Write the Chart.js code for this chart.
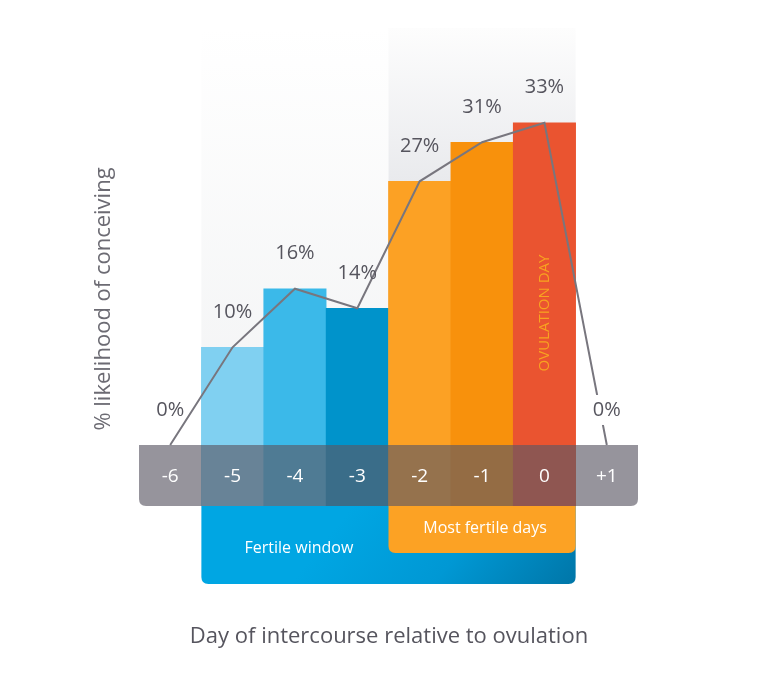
<!DOCTYPE html>
<html>
<head>
<meta charset="utf-8">
<script src="https://cdn.jsdelivr.net/npm/chart.js@4"></script>
<style>
  body { margin: 0; background: #fff; }
</style>
</head>
<body>
<canvas id="fertilityChart" width="781" height="683"></canvas>
<script>
// chart values
const days = ['-6', '-5', '-4', '-3', '-2', '-1', '0', '+1'];
const likelihood = [0, 10, 16, 14, 27, 31, 33, 0];
const barColors = ['rgba(0,0,0,0)', '#80d0f1', '#3bb9e9', '#0093cb', '#fca124', '#f8910c', '#ea5430', 'rgba(0,0,0,0)'];

const yTitle = '% likelihood of conceiving';
const xTitle = 'Day of intercourse relative to ovulation';

const FONT = '"Open Sans", sans-serif';
const Y_MIN = -6.25;
const Y_MAX = 42.7;

function roundRectBottom(ctx, x, y, w, h, r) {
  ctx.beginPath();
  ctx.moveTo(x, y);
  ctx.lineTo(x + w, y);
  ctx.lineTo(x + w, y + h - r);
  ctx.quadraticCurveTo(x + w, y + h, x + w - r, y + h);
  ctx.lineTo(x + r, y + h);
  ctx.quadraticCurveTo(x, y + h, x, y + h - r);
  ctx.closePath();
}

// backdrop panels and the fertile window boxes, drawn under the bars
const backdrop = {
  id: 'backdrop',
  beforeDatasetsDraw(chart) {
    const { ctx, chartArea, scales: { x, y } } = chart;
    const half = (x.getPixelForValue(1) - x.getPixelForValue(0)) / 2;
    const zero = y.getPixelForValue(0);
    const top = chartArea.top;
    ctx.save();

    // light panel behind days -5..-3
    let l = x.getPixelForValue(1) - half, r = x.getPixelForValue(3) + half;
    let g = ctx.createLinearGradient(0, top, 0, zero);
    g.addColorStop(0, '#ffffff');
    g.addColorStop(1, '#f2f3f4');
    ctx.fillStyle = g;
    ctx.fillRect(l, top, r - l, zero - top);

    // darker panel behind days -2..0
    l = x.getPixelForValue(4) - half; r = x.getPixelForValue(6) + half;
    g = ctx.createLinearGradient(0, top, 0, y.getPixelForValue(27));
    g.addColorStop(0, '#fdfdfd');
    g.addColorStop(1, '#e9eaed');
    ctx.fillStyle = g;
    ctx.fillRect(l, top, r - l, zero - top);

    // fertile window box
    l = x.getPixelForValue(1) - half; r = x.getPixelForValue(6) + half;
    const blueBottom = chartArea.bottom + 78;
    g = ctx.createLinearGradient(l + 200, zero, r, blueBottom);
    g.addColorStop(0, '#00a6e3');
    g.addColorStop(0.5, '#0098d4');
    g.addColorStop(1, '#0076a8');
    ctx.fillStyle = g;
    roundRectBottom(ctx, l, zero, r - l, blueBottom - zero, 7);
    ctx.fill();

    // most fertile days box
    l = x.getPixelForValue(4) - half;
    ctx.fillStyle = '#fca224';
    roundRectBottom(ctx, l, zero, r - l, chartArea.bottom + 47 - zero, 7);
    ctx.fill();
    ctx.restore();
  }
};

// grey day band, value labels and titles, drawn over the bars
const overlay = {
  id: 'overlay',
  afterDatasetsDraw(chart) {
    const { ctx, chartArea, scales: { x, y } } = chart;
    const zero = y.getPixelForValue(0);
    ctx.save();

    ctx.fillStyle = 'rgba(91, 88, 100, 0.64)';
    roundRectBottom(ctx, chartArea.left, zero, chartArea.right - chartArea.left, chartArea.bottom - zero, 7);
    ctx.fill();

    ctx.textAlign = 'center';
    ctx.textBaseline = 'middle';

    // day labels in the band
    ctx.fillStyle = '#ffffff';
    ctx.font = '19px ' + FONT;
    days.forEach((d, i) => {
      ctx.fillText(d, x.getPixelForValue(i), (zero + chartArea.bottom) / 2 + 1);
    });

    // percentage labels; the last one gets a white patch so the line breaks there
    ctx.font = '20px ' + FONT;
    likelihood.forEach((v, i) => {
      const px = x.getPixelForValue(i), py = y.getPixelForValue(v) - 35;
      if (i === days.length - 1) {
        ctx.fillStyle = '#ffffff';
        ctx.fillRect(px - 17, py - 15, 34, 30);
      }
      ctx.fillStyle = '#56555e';
      ctx.fillText(v + '%', px, py);
    });

    // box captions
    ctx.fillStyle = '#ffffff';
    ctx.font = '16px ' + FONT;
    ctx.fillText('Fertile window', x.getPixelForValue(2) + 4, chartArea.bottom + 42);
    ctx.fillText('Most fertile days', x.getPixelForValue(5) + 3, chartArea.bottom + 22);

    // ovulation day, rotated inside the last bar
    ctx.save();
    ctx.translate(x.getPixelForValue(6), 313);
    ctx.rotate(-Math.PI / 2);
    ctx.fillStyle = '#f8a320';
    ctx.font = '15px ' + FONT;
    ctx.fillText('OVULATION DAY', 0, 0);
    ctx.restore();

    // axis titles
    ctx.save();
    ctx.translate(104, 299);
    ctx.rotate(-Math.PI / 2);
    ctx.fillStyle = '#6c6b73';
    ctx.font = '22px ' + FONT;
    ctx.fillText(yTitle, 0, 0);
    ctx.restore();

    ctx.fillStyle = '#56555e';
    ctx.font = '22px ' + FONT;
    ctx.fillText(xTitle, 389, 637);
    ctx.restore();
  }
};

const ctx = document.getElementById('fertilityChart').getContext('2d');
const chart = new Chart(ctx, {
  data: {
    labels: days,
    datasets: [
      {
        type: 'line',
        data: likelihood,
        borderColor: '#78767e',
        borderWidth: 2,
        pointRadius: 0,
        tension: 0,
        order: 0
      },
      {
        type: 'bar',
        data: likelihood,
        base: Y_MIN,
        backgroundColor: barColors,
        borderWidth: 0,
        barPercentage: 1,
        categoryPercentage: 1,
        order: 1
      }
    ]
  },
  options: {
    responsive: false,
    animation: false,
    layout: { padding: { left: 139, right: 143, top: 28, bottom: 177 } },
    plugins: { legend: { display: false }, tooltip: { enabled: false } },
    scales: {
      x: { display: false },
      y: { display: false, min: Y_MIN, max: Y_MAX }
    }
  },
  plugins: [backdrop, overlay]
});
</script>
</body>
</html>
